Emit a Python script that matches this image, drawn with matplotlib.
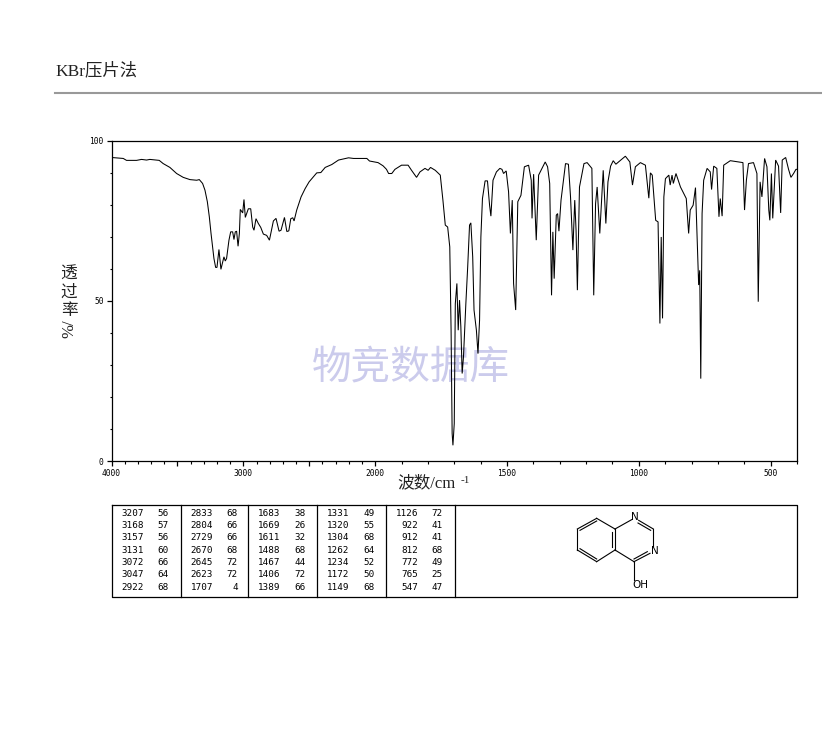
"""KBr pellet IR spectrum with peak table and structure."""
import matplotlib

matplotlib.use("Agg")
import matplotlib.pyplot as plt
import numpy as np

W, H = 822, 737
INK = "#000000"
CJK = ["Liberation Serif", "Noto Sans CJK SC"]

wavenumber = [
    4000, 3911, 3886, 3810, 3772, 3734, 3709, 3638, 3608, 3557, 3506, 3456, 3405, 3354, 3334, 3309,
    3291, 3273, 3258, 3245, 3233, 3223, 3210, 3200, 3185, 3170, 3147, 3137, 3127, 3109, 3096, 3081,
    3071, 3061, 3051, 3040, 3030, 3023, 3005, 2995, 2985, 2962, 2944, 2929, 2919, 2904, 2886, 2868,
    2848, 2823, 2802, 2782, 2772, 2752, 2729, 2714, 2688, 2670, 2655, 2640, 2625, 2615, 2595, 2562,
    2531, 2501, 2443, 2412, 2379, 2329, 2278, 2202, 2164, 2063, 2043, 1989, 1970, 1957, 1949, 1937,
    1925, 1900, 1875, 1862, 1843, 1830, 1811, 1799, 1790, 1772, 1753, 1743, 1734, 1725, 1717, 1712,
    1708, 1705, 1700, 1696, 1690, 1685, 1680, 1675, 1670, 1665, 1656, 1649, 1642, 1637, 1630, 1625,
    1616, 1610, 1604, 1599, 1593, 1583, 1574, 1566, 1561, 1553, 1540, 1527, 1519, 1513, 1503, 1494,
    1487, 1480, 1475, 1467, 1459, 1447, 1434, 1418, 1408, 1405, 1399, 1389, 1380, 1355, 1346, 1338,
    1331, 1326, 1321, 1313, 1308, 1303, 1295, 1278, 1267, 1259, 1250, 1243, 1238, 1233, 1225, 1208,
    1196, 1178, 1171, 1164, 1158, 1148, 1135, 1125, 1117, 1107, 1097, 1087, 1051, 1034, 1024, 1013,
    994, 975, 962, 956, 949, 936, 927, 920, 915, 910, 905, 899, 886, 881, 874, 869,
    859, 842, 820, 811, 805, 794, 785, 773, 769, 765, 760, 754, 741, 729, 724, 716,
    704, 696, 691, 684, 678, 653, 605, 599, 592, 584, 565, 552, 547, 540, 533, 523,
    514, 507, 503, 497, 492, 481, 470, 462, 456, 443, 432, 423, 413, 404, 401,
]
transmittance = [
    94.7, 94.4, 93.8, 93.8, 94.1, 93.9, 94.1, 93.8, 92.8, 91.6, 89.7, 88.5, 87.8, 87.6, 87.8, 86.6,
    84.5, 80.9, 76.2, 71.0, 66.8, 63.2, 60.4, 60.4, 66.0, 59.8, 63.7, 62.4, 63.2, 68.9, 71.5, 71.5,
    69.1, 71.5, 71.7, 67.0, 71.0, 78.5, 77.4, 81.6, 76.0, 78.7, 78.7, 73.0, 72.0, 75.6, 74.1, 72.9,
    70.8, 70.4, 68.9, 73.0, 74.9, 75.7, 71.7, 72.0, 76.0, 71.6, 71.8, 75.6, 75.9, 74.9, 78.3, 82.4,
    85.0, 87.1, 89.9, 90.0, 91.6, 92.5, 93.9, 94.6, 94.4, 94.4, 93.6, 93.1, 92.1, 91.0, 89.7, 89.7,
    91.0, 92.3, 92.3, 90.7, 88.5, 90.2, 91.3, 90.7, 91.6, 90.7, 89.2, 81.4, 73.6, 73.0, 66.8, 40.8,
    8.6, 4.9, 11.7, 49.1, 55.4, 40.8, 50.2, 41.9, 27.3, 32.5, 49.1, 60.6, 73.6, 74.3, 63.7, 47.1,
    40.8, 33.5, 43.9, 69.9, 81.9, 87.4, 87.4, 79.8, 76.4, 87.6, 90.2, 91.3, 91.0, 89.7, 90.5, 84.0,
    71.0, 81.4, 55.4, 47.1, 80.9, 82.9, 91.8, 92.3, 87.6, 75.7, 89.5, 68.9, 89.2, 93.3, 91.8, 86.6,
    51.7, 71.5, 56.9, 76.7, 77.2, 71.7, 81.4, 92.8, 92.6, 82.4, 65.8, 81.4, 72.0, 53.3, 85.5, 92.8,
    93.1, 91.3, 51.7, 80.3, 85.5, 71.0, 90.7, 74.1, 87.1, 92.0, 93.7, 92.6, 95.1, 93.3, 86.1, 91.8,
    93.1, 92.3, 82.0, 89.9, 89.2, 75.1, 74.6, 42.9, 69.9, 44.5, 82.4, 88.1, 89.2, 86.1, 89.2, 86.6,
    89.7, 85.5, 81.9, 71.0, 78.3, 79.8, 85.3, 54.9, 59.5, 25.7, 77.2, 87.6, 91.3, 90.2, 84.7, 92.0,
    91.3, 76.2, 81.9, 76.4, 92.3, 93.7, 93.1, 78.3, 87.6, 92.8, 93.1, 89.7, 49.7, 87.1, 82.4, 94.4,
    91.8, 78.3, 75.1, 89.7, 75.7, 93.9, 92.0, 77.4, 93.9, 94.7, 91.0, 88.5, 89.7, 91.0, 91.0,
]

x_major = [4000, 3000, 2000, 1500, 1000, 500]
x_long_unlabelled = [3500, 2500]
y_major = [0, 50, 100]

peak_columns = [
    [("3207", "56"), ("3168", "57"), ("3157", "56"), ("3131", "60"), ("3072", "66"), ("3047", "64"), ("2922", "68")],
    [("2833", "68"), ("2804", "66"), ("2729", "66"), ("2670", "68"), ("2645", "72"), ("2623", "72"), ("1707", "4")],
    [("1683", "38"), ("1669", "26"), ("1611", "32"), ("1488", "68"), ("1467", "44"), ("1406", "72"), ("1389", "66")],
    [("1331", "49"), ("1320", "55"), ("1304", "68"), ("1262", "64"), ("1234", "52"), ("1172", "50"), ("1149", "68")],
    [("1126", "72"), ("922", "41"), ("912", "41"), ("812", "68"), ("772", "49"), ("765", "25"), ("547", "47")],
]


def to_pos(w):
    # axis runs at twice the scale below 2000 cm-1
    w = np.asarray(w, dtype=float)
    return np.where(w >= 2000, w, 2000 - (2000 - w) * 2)


def from_pos(p):
    p = np.asarray(p, dtype=float)
    return np.where(p >= 2000, p, 2000 - (2000 - p) / 2)


fig = plt.figure(figsize=(W / 100, H / 100), dpi=100, facecolor="white")

# page layer in pixel coordinates, y pointing down
page = fig.add_axes([0, 0, 1, 1])
page.set_xlim(0, W)
page.set_ylim(H, 0)
page.axis("off")

L, R, T, B = 111.5, 797, 140.5, 461
ax = fig.add_axes([L / W, 1 - B / H, (R - L) / W, (B - T) / H])
ax.patch.set_alpha(0)
ax.set_xscale("function", functions=(to_pos, from_pos))
ax.set_xlim(4000, 400)
ax.set_ylim(0, 100)
ax.plot(wavenumber, transmittance, color=INK, lw=0.75, solid_joinstyle="miter")

ax.set_xticks(x_major + x_long_unlabelled)
ax.set_xticklabels([str(v) for v in x_major] + ["" for _ in x_long_unlabelled])
ax.set_xticks(np.arange(400, 4000, 100), minor=True)
ax.set_yticks(y_major)
ax.set_yticks(np.arange(0, 101, 10), minor=True)
ax.tick_params(axis="both", which="major", length=3.6, width=0.9, labelsize=5.7, pad=2)
ax.tick_params(axis="both", which="minor", length=1.8, width=0.8)
for s in ax.spines.values():
    s.set_linewidth(0.9)
for t in ax.get_xticklabels() + ax.get_yticklabels():
    t.set_family("DejaVu Sans Mono")

# heading and rule
page.text(55, 71, "KBr压片法", family=CJK, fontsize=12.5, va="center", color="#222222")
page.plot([55, 822], [92.5, 92.5], color="#999999", lw=1.5)

# axis titles
page.text(69, 275, "透", family=CJK, fontsize=12, ha="center", va="center", color="#222222")
page.text(69, 293, "过", family=CJK, fontsize=12, ha="center", va="center", color="#222222")
page.text(69, 311, "率", family=CJK, fontsize=12, ha="center", va="center", color="#222222")
page.text(69, 329, "%/", family=CJK, fontsize=12, ha="center", va="center", rotation=90, color="#222222")
page.text(397, 483, "波数/cm", family=CJK, fontsize=12, ha="left", va="center", color="#222222")
page.text(461, 480, "-1", family=CJK, fontsize=8, ha="left", va="center", color="#222222")

page.text(411, 369, "物竞数据库", family=CJK, fontsize=28.5, ha="center", va="center",
          color="#cbcbec", zorder=0)

# peak table
page.plot([111.5, 797, 797, 111.5, 111.5], [504.5, 504.5, 596.5, 596.5, 504.5], color=INK, lw=0.9)
col_left = [111.5, 180.7, 248.3, 317.3, 385.7]
for x in col_left[1:] + [455]:
    page.plot([x, x], [504.5, 596.5], color=INK, lw=0.9)
for left, col in zip(col_left, peak_columns):
    for i, (wave, trans) in enumerate(col):
        y = 513.3 + i * 12.33
        page.text(left + 32.5, y, wave, family="DejaVu Sans Mono", fontsize=6.7, ha="right", va="center")
        page.text(left + 57, y, trans, family="DejaVu Sans Mono", fontsize=6.7, ha="right", va="center")

# 4-hydroxyquinazoline structure
ox, oy = 560, 505
bonds = [
    ((110, 40), (165, 72)), ((165, 72), (165, 135)), ((165, 135), (110, 170)),
    ((110, 170), (52, 135)), ((52, 135), (52, 72)), ((52, 72), (110, 40)),
    ((60, 76), (110, 48)), ((60, 131), (110, 162)), ((157, 80), (157, 127)),
    ((165, 72), (215, 44)), ((236, 46), (280, 72)), ((234, 54), (272, 76)),
    ((280, 72), (280, 122)), ((270, 145), (222, 170)), ((262, 140), (222, 162)),
    ((222, 170), (165, 135)), ((222, 170), (222, 225)),
]
for (x0, y0), (x1, y1) in bonds:
    page.plot([ox + x0 / 3, ox + x1 / 3], [oy + y0 / 3, oy + y1 / 3], color=INK, lw=0.8)
for label, (zx, zy) in [("N", (226, 37)), ("N", (285, 138)), ("OH", (242, 240))]:
    page.text(ox + zx / 3, oy + zy / 3, label, family="DejaVu Sans", fontsize=7.5, ha="center", va="center")

fig.savefig("out.png", dpi=100, facecolor="white")
